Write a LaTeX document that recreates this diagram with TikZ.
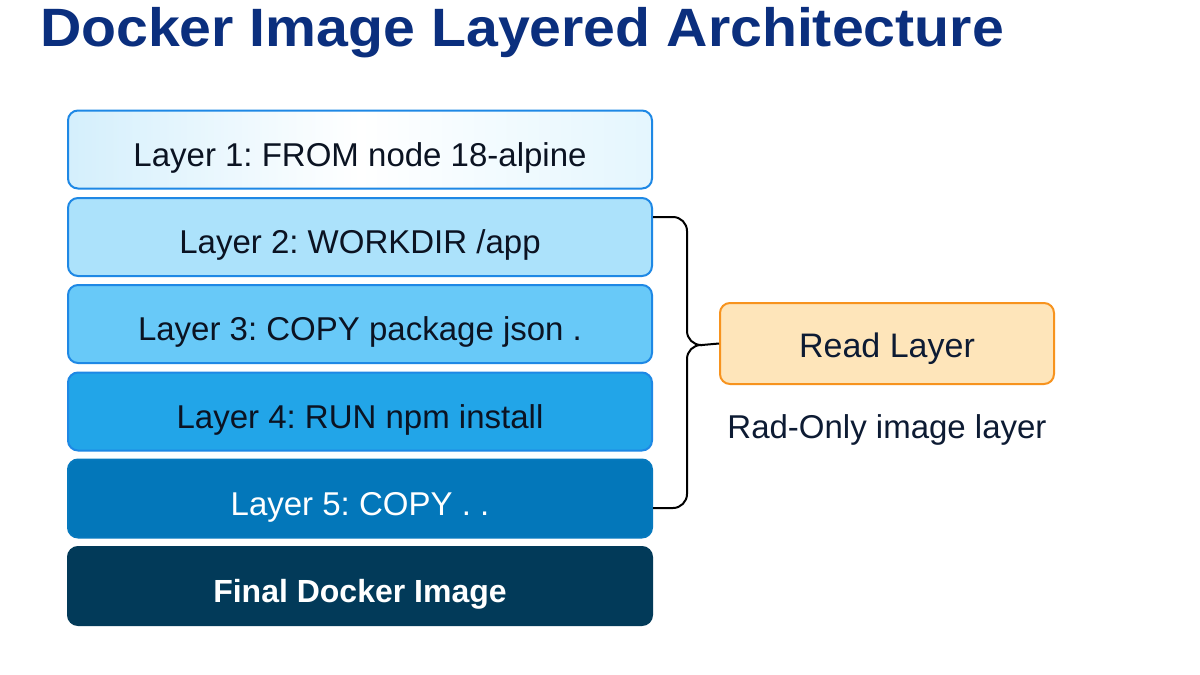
\documentclass[tikz,border=0pt]{standalone}
\usepackage{fontspec}
\usepackage{graphicx}
\setmainfont{Liberation Sans}
\frenchspacing
\definecolor{titleblue}{HTML}{0B2F7E}
\definecolor{borderblue}{HTML}{1E88E5}
\definecolor{c1}{HTML}{E4F6FE}
\definecolor{c1l}{HTML}{D4EFFC}
\definecolor{c2}{HTML}{ACE2FB}
\definecolor{c3}{HTML}{68C9F8}
\definecolor{c4}{HTML}{22A5E8}
\definecolor{c5}{HTML}{0377BA}
\definecolor{c6}{HTML}{023A59}
\definecolor{txtdark}{HTML}{0B1322}
\definecolor{readfill}{HTML}{FEE5BA}
\definecolor{readborder}{HTML}{F7931E}
\definecolor{navytext}{HTML}{0D1B33}
\tikzset{
  layerbox/.style={draw=borderblue, line width=2pt, rounded corners=10pt,
    minimum width=584pt, minimum height=78pt, inner sep=0pt,
    text height=33pt, text depth=0pt,
    font=\fontsize{33}{38}\selectfont, text=txtdark},
  bracketline/.style={draw=black, line width=2pt, rounded corners=14pt},
}
\begin{document}
\begin{tikzpicture}[x=1pt,y=-1pt]
\useasboundingbox[fill=white] (0,0) rectangle (1200,675);
\node[anchor=base, text=titleblue, font=\fontsize{54}{60}\selectfont\bfseries] (title) at (522,46) {\scalebox{1.06}[1]{Docker Image Layered Architecture}};
\node[layerbox, left color=c1l, right color=c1, middle color=white] (l1) at (360,149.5) {Layer 1: FROM node 18-alpine};
\node[layerbox, fill=c2] (l2) at (360,237) {Layer 2: WORKDIR /app};
\node[layerbox, fill=c3] (l3) at (360,324) {Layer 3: COPY package json .};
\node[layerbox, fill=c4] (l4) at (360,411.5) {Layer 4: RUN npm install};
\node[layerbox, fill=c5, draw=c5!90!borderblue, text=white] (l5) at (360,498.5) {Layer 5: COPY  . .};
\node[layerbox, fill=c6, draw=c6, text=white, font=\fontsize{32}{38}\selectfont\bfseries] (fin) at (360,586) {Final Docker Image};
\node[draw=readborder, fill=readfill, line width=2pt, rounded corners=10pt,
  minimum width=334pt, minimum height=81pt, inner sep=0pt,
  text height=27pt, text depth=0pt,
  font=\fontsize{34}{38}\selectfont, text=navytext] (read) at (887,343.5) {Read Layer};
\node[font=\fontsize{33}{38}\selectfont, text=navytext, anchor=base] (ro) at (887,438) {Rad-Only image layer};
\coordinate (tip) at (702,345);
\draw[bracketline] (l2.east |- 0,217) -- (687,217) -- (687,345) -- (tip);
\draw[bracketline] (l5.east |- 0,508) -- (687,508) -- (687,345) -- (tip);
\draw[draw=black, line width=2pt] (tip) -- (read.west);
\end{tikzpicture}
\end{document}
